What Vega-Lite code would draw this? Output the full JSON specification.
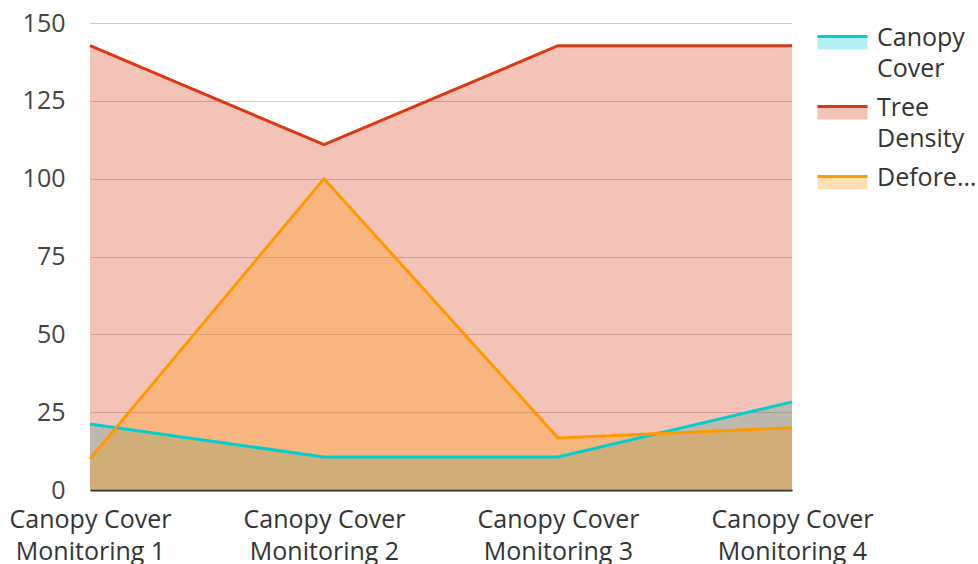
{
  "$schema": "https://vega.github.io/schema/vega-lite/v6.json",
  "width": 702,
  "height": 467,
  "autosize": "none",
  "padding": {"left": 90, "top": 23, "right": 186, "bottom": 74},
  "background": "white",
  "config": {
    "font": "Open Sans",
    "view": {"stroke": null}
  },
  "data": {
    "values": [
      {"stage": "Canopy Cover Monitoring 1", "series": "Canopy Cover", "value": 21.2},
      {"stage": "Canopy Cover Monitoring 2", "series": "Canopy Cover", "value": 10.6},
      {"stage": "Canopy Cover Monitoring 3", "series": "Canopy Cover", "value": 10.6},
      {"stage": "Canopy Cover Monitoring 4", "series": "Canopy Cover", "value": 28.3},
      {"stage": "Canopy Cover Monitoring 1", "series": "Tree Density", "value": 142.7},
      {"stage": "Canopy Cover Monitoring 2", "series": "Tree Density", "value": 110.9},
      {"stage": "Canopy Cover Monitoring 3", "series": "Tree Density", "value": 142.7},
      {"stage": "Canopy Cover Monitoring 4", "series": "Tree Density", "value": 142.7},
      {"stage": "Canopy Cover Monitoring 1", "series": "Deforestation", "value": 10},
      {"stage": "Canopy Cover Monitoring 2", "series": "Deforestation", "value": 100},
      {"stage": "Canopy Cover Monitoring 3", "series": "Deforestation", "value": 16.7},
      {"stage": "Canopy Cover Monitoring 4", "series": "Deforestation", "value": 20}
    ]
  },
  "encoding": {
    "x": {
      "field": "stage",
      "type": "ordinal",
      "sort": null,
      "scale": {"type": "point", "padding": 0},
      "axis": {
        "title": null,
        "labelAngle": 0,
        "labelExpr": "[substring(datum.label, 0, 12), substring(datum.label, 13)]",
        "labelFontSize": 25,
        "labelLineHeight": 32,
        "labelColor": "#333333",
        "labelPadding": 17,
        "ticks": false,
        "grid": false,
        "domainColor": "#333333",
        "domainWidth": 2,
        "labelLimit": 300
      }
    },
    "y": {
      "field": "value",
      "type": "quantitative",
      "stack": null,
      "scale": {"domain": [0, 150]},
      "axis": {
        "title": null,
        "values": [0, 25, 50, 75, 100, 125, 150],
        "labelFontSize": 25,
        "labelColor": "#444444",
        "labelPadding": 25,
        "ticks": false,
        "domain": false,
        "gridColor": "#cccccc",
        "gridWidth": 1
      }
    },
    "color": {
      "field": "series",
      "type": "nominal",
      "sort": ["Canopy Cover", "Tree Density", "Deforestation"],
      "scale": {
        "domain": ["Canopy Cover", "Tree Density", "Deforestation"],
        "range": ["#00CED1", "#DC3912", "#FF9900"]
      },
      "legend": {
        "title": null,
        "orient": "right",
        "offset": 18,
        "padding": 0,
        "symbolType": "M-1,-0.52H1V0H-1Z",
        "symbolSize": 2500,
        "symbolStrokeWidth": 3,
        "symbolDash": [50, 1000],
        "labelExpr": "split(datum.label, ' ')",
        "labelFontSize": 25,
        "labelColor": "#333333",
        "labelOffset": 8,
        "labelLimit": 100,
        "labelBaseline": "alphabetic",
        "rowPadding": 11,
        "encode": {
          "symbols": {
            "update": {
              "fill": {"scale": "color", "field": "value"},
              "stroke": {"scale": "color", "field": "value"},
              "fillOpacity": {"value": 0.3},
              "strokeOpacity": {"value": 1},
              "opacity": {"value": 1}
            }
          },
          "labels": {
            "update": {
              "dy": {"value": -4},
              "lineHeight": {"value": 31}
            }
          }
        }
      }
    }
  },
  "layer": [
    {"mark": {"type": "area", "opacity": 0.3}},
    {"mark": {"type": "line", "strokeWidth": 3}}
  ]
}
